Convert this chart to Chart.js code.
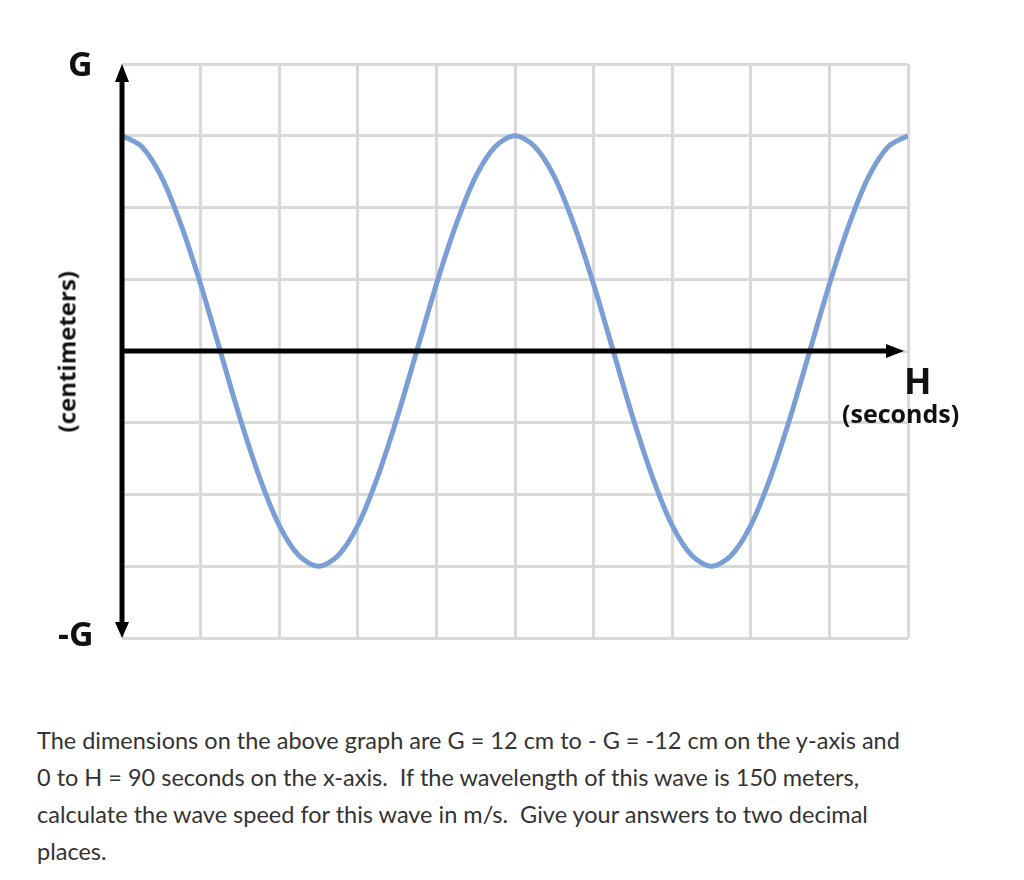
<!DOCTYPE html>
<html><head><meta charset="utf-8">
<script src="https://cdn.jsdelivr.net/npm/chart.js@4"></script>
<style>
body{margin:0;background:#fff;font-family:Lato,"Open Sans",sans-serif;}
#wrap{position:relative;width:1024px;height:880px;}
canvas{position:absolute;left:0;top:0;}
.lb{position:absolute;font-weight:bold;color:#111;font-family:"Open Sans",Lato,sans-serif;}
#para{position:absolute;left:37px;top:722px;width:980px;font-size:23.5px;line-height:37px;color:#333;font-family:Lato,sans-serif;white-space:nowrap;}
</style></head><body>
<div id="wrap">
<canvas id="c" width="1024" height="680"></canvas>
<div class="lb" style="left:68px;top:40px;font-size:34px;">G</div>
<div class="lb" style="left:58px;top:610px;font-size:34px;">-G</div>
<div class="lb" style="left:904px;top:356px;font-size:36px;">H</div>
<div class="lb" style="left:842px;top:396px;font-size:25px;">(seconds)</div>
<div class="lb" style="left:-14px;top:336px;font-size:24px;transform:rotate(-90deg);width:160px;text-align:center;">(centimeters)</div>
<div id="para">The dimensions on the above graph are G = 12 cm to - G = -12 cm on the y-axis and<br>0 to H = 90 seconds on the x-axis.&nbsp; If the wavelength of this wave is 150 meters,<br>calculate the wave speed for this wave in m/s.&nbsp; Give your answers to two decimal<br>places.</div>
</div>
<script>
const xValues=[0,0.25,0.5,0.75,1,1.25,1.5,1.75,2,2.25,2.5,2.75,3,3.25,3.5,3.75,4,4.25,4.5,4.75,5,5.25,5.5,5.75,6,6.25,6.5,6.75,7,7.25,7.5,7.75,8,8.25,8.5,8.75,9,9.25,9.5,9.75,10];
const yValues=[3,2.85,2.43,1.76,0.93,0,-0.93,-1.76,-2.43,-2.85,-3,-2.85,-2.43,-1.76,-0.93,0,0.93,1.76,2.43,2.85,3,2.85,2.43,1.76,0.93,0,-0.93,-1.76,-2.43,-2.85,-3,-2.85,-2.43,-1.76,-0.93,0,0.93,1.76,2.43,2.85,3];
const xRange=[0,10];
const yRange=[-4,4];
const axesPlugin={id:'axes',afterDatasetsDraw(ch){
  const c=ch.ctx,xs=ch.scales.x,ys=ch.scales.y;
  const x0=xs.getPixelForValue(0),y0=ys.getPixelForValue(0);
  c.save();c.strokeStyle='#000';c.fillStyle='#000';c.lineWidth=5;
  c.beginPath();c.moveTo(x0,78);c.lineTo(x0,624);c.stroke();
  c.beginPath();c.moveTo(x0-7,82);c.lineTo(x0+7,82);c.lineTo(x0,64);c.fill();
  c.beginPath();c.moveTo(x0-7,622);c.lineTo(x0+7,622);c.lineTo(x0,638);c.fill();
  c.beginPath();c.moveTo(x0,y0);c.lineTo(890,y0);c.stroke();
  c.beginPath();c.moveTo(886,y0-7);c.lineTo(886,y0+7);c.lineTo(904,y0);c.fill();
  c.restore();}};
new Chart(document.getElementById('c'),{type:'line',
 data:{datasets:[{data:xValues.map((x,i)=>({x,y:yValues[i]})),borderColor:'#7b9fd4',borderWidth:5,pointRadius:0,tension:0.3}]},
 options:{responsive:false,animation:false,
  layout:{padding:{left:122,right:116,top:64,bottom:42}},
  plugins:{legend:{display:false},tooltip:{enabled:false}},
  scales:{
   x:{type:'linear',min:xRange[0],max:xRange[1],ticks:{display:false,stepSize:1},border:{display:false},grid:{color:'#d9d9d9',lineWidth:3,drawTicks:false}},
   y:{min:yRange[0],max:yRange[1],ticks:{display:false,stepSize:1},border:{display:false},grid:{color:'#d9d9d9',lineWidth:3,drawTicks:false}}}},
 plugins:[axesPlugin]});
</script></body></html>
